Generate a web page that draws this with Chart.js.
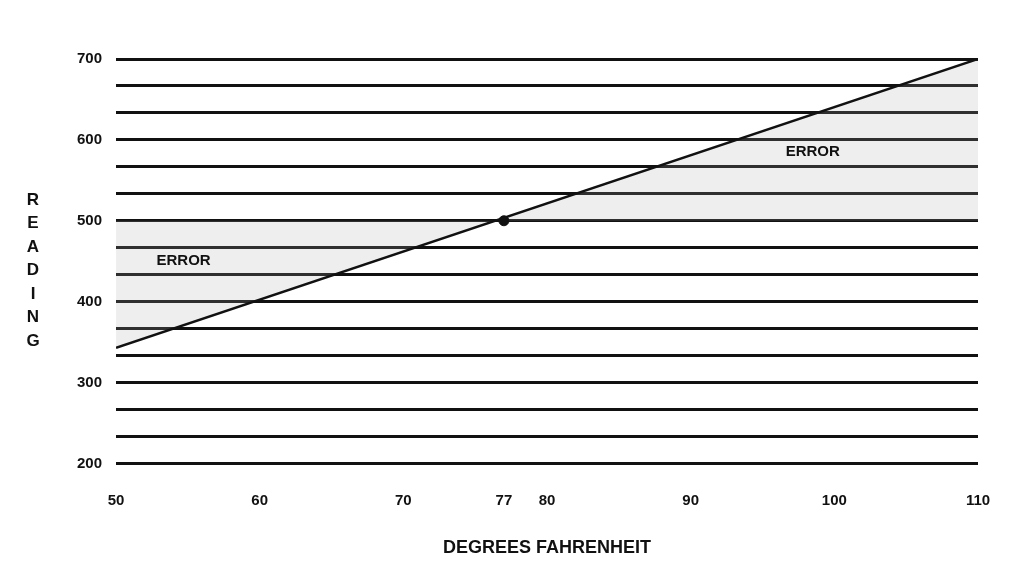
<!DOCTYPE html>
<html><head><meta charset="utf-8">
<script src="https://cdn.jsdelivr.net/npm/chart.js@4/dist/chart.umd.min.js"></script>
<style>html,body{margin:0;background:#fff}#w{width:1024px;height:578px}</style>
</head><body><div id="w"><canvas id="c"></canvas></div>
<script>
const lineX = [50, 110];
const lineY = [343, 700];
const refPoint = [{x: 77, y: 500}];
const xTicks = [50, 60, 70, 77, 80, 90, 100, 110];
const yTickLabels = [200, 300, 400, 500, 600, 700];
const yTitle = ['R','E','A','D','I','N','G'];
const errorLabels = [{x: 54.7, y: 450, t: 'ERROR'}, {x: 98.5, y: 585, t: 'ERROR'}];
const font = {family: 'Liberation Sans, Arial, sans-serif', weight: 'bold', size: 15};

const linePts = lineX.map((x, i) => ({x, y: lineY[i]}));
const refLine = lineX.map(x => ({x, y: 500}));

const deco = {
  id: 'deco',
  afterDraw(ch) {
    const c = ch.ctx, xs = ch.scales.x, ys = ch.scales.y;
    c.save();
    c.fillStyle = '#111';
    c.font = 'bold 15px Liberation Sans, Arial, sans-serif';
    c.textAlign = 'center'; c.textBaseline = 'middle';
    errorLabels.forEach(e => c.fillText(e.t, xs.getPixelForValue(e.x), ys.getPixelForValue(e.y)));
    c.font = 'bold 17px Liberation Sans, Arial, sans-serif';
    yTitle.forEach((l, i) => c.fillText(l, 33, 200 + i * 23.5));
    c.restore();
  }
};

new Chart(document.getElementById('c'), {
  type: 'scatter',
  data: {datasets: [
    {data: refLine, showLine: true, borderWidth: 0, pointRadius: 0, borderColor: 'transparent', fill: false, order: 3},
    {data: linePts, showLine: true, borderColor: '#111', borderWidth: 2.5, pointRadius: 0,
     fill: {target: 0, above: 'rgba(170,170,170,0.2)', below: 'rgba(170,170,170,0.2)'}, order: 2},
    {data: refPoint, pointRadius: 5, backgroundColor: '#111', borderColor: '#111', order: 1}
  ]},
  options: {
    responsive: true, maintainAspectRatio: false, animation: false,
    layout: {padding: {left: 63, right: 46, top: 59, bottom: 15}},
    plugins: {legend: {display: false}, tooltip: {enabled: false}},
    scales: {
      x: {type: 'linear', min: 50, max: 110,
        afterBuildTicks: s => { s.ticks = xTicks.map(v => ({value: v})); },
        grid: {display: false}, border: {display: false},
        ticks: {color: '#111', font, padding: 20, autoSkip: false, maxRotation: 0},
        title: {display: true, text: 'DEGREES FAHRENHEIT', color: '#111', font: {...font, size: 18}, padding: {top: 8}}},
      y: {min: 200, max: 700,
        afterBuildTicks: s => { s.ticks = Array.from({length: 16}, (_, i) => ({value: 200 + i * 500 / 15})); },
        grid: {color: '#111', lineWidth: 3, drawTicks: false}, border: {display: false},
        ticks: {color: '#111', font, padding: 14, autoSkip: false,
          callback: v => { const r = Math.round(v); return yTickLabels.includes(r) && Math.abs(v - r) < 0.01 ? String(r) : ''; }}}
    }
  },
  plugins: [deco]
});
</script></body></html>
